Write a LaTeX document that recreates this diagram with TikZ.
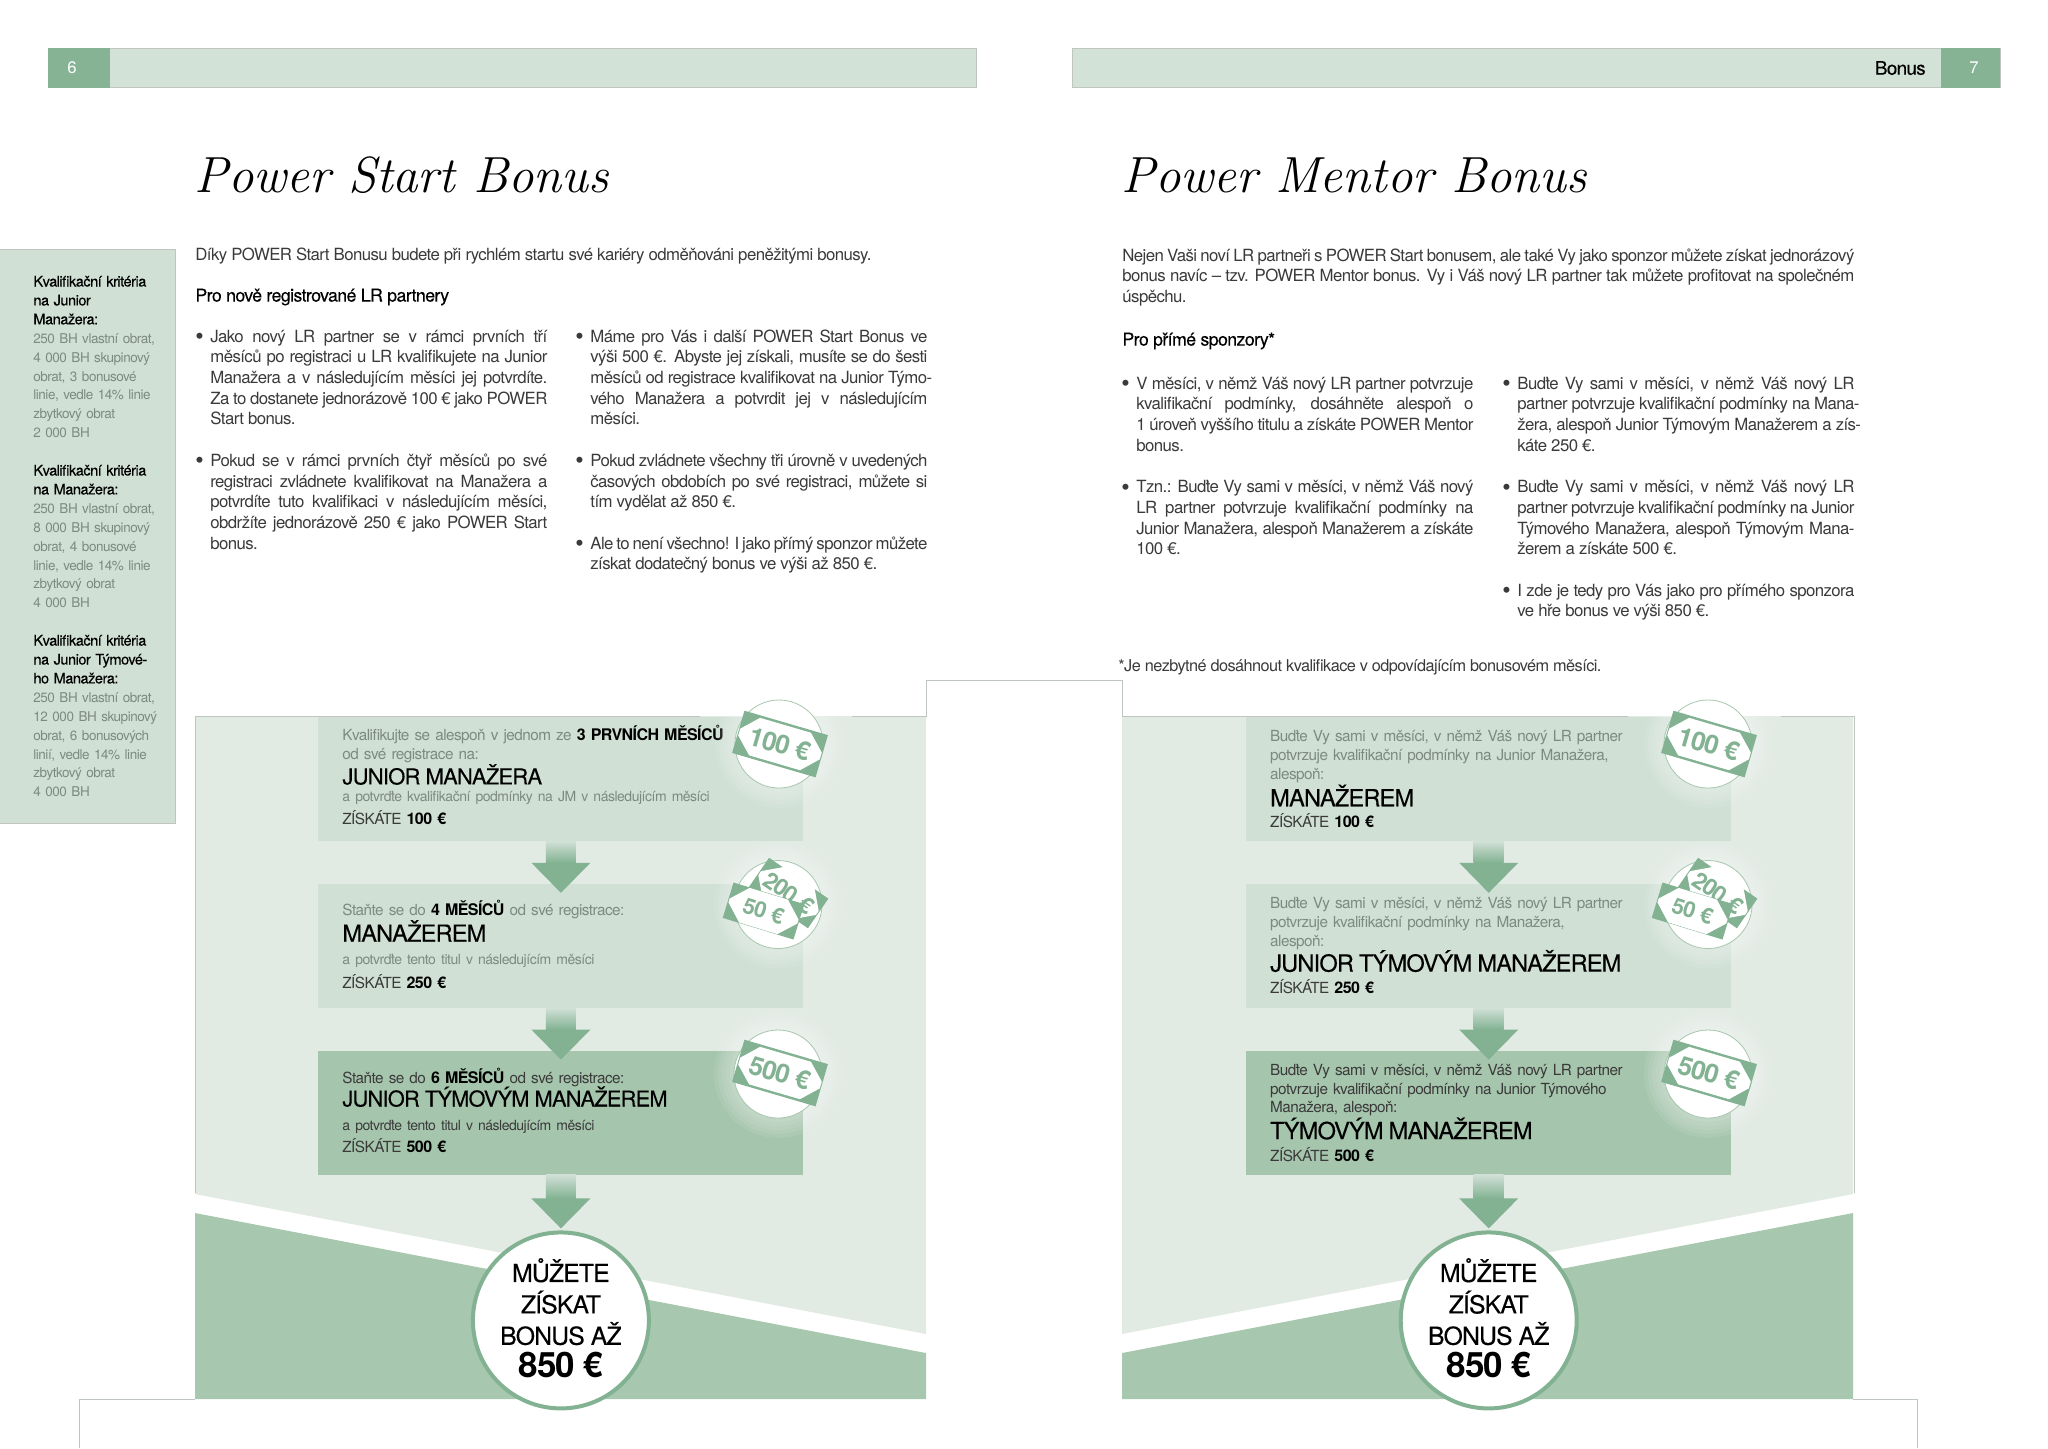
\documentclass[tikz,border=0pt]{standalone}
\usepackage{fontspec}
\setsansfont{TeX Gyre Heros}[LetterSpace=-3.5]
\newfontfamily\medf{TeX Gyre Heros}[LetterSpace=-3.5,FakeBold=0.2]
\usepackage{xcolor}
\usepackage{tikz}
\usetikzlibrary{positioning,calc,shapes.misc}

\definecolor{barlight}{HTML}{D3E2D7}
\definecolor{tabgreen}{HTML}{86B394}
\definecolor{edgegrey}{HTML}{BFC6C1}
\definecolor{panellight}{HTML}{E1EAE3}
\definecolor{panelgreen}{HTML}{A7C7AE}
\definecolor{boxlight}{HTML}{D0E0D5}
\definecolor{boxdark}{HTML}{A6C5AD}
\definecolor{notegreen}{HTML}{82B292}
\definecolor{softtext}{HTML}{7D8A82}
\definecolor{bodytext}{HTML}{3A3A3A}

\newcommand{\bodyf}{\fontsize{8.4}{10.35}\selectfont}
\newcommand{\headf}{\medf\fontsize{8.9}{10.35}\selectfont}
\newcommand{\sidef}{\fontsize{6.75}{9.45}\selectfont}
\newcommand{\sidehead}[1]{\textcolor{black}{\medf\fontsize{7.3}{9.45}\selectfont #1}}
\newcommand{\smallf}{\fontsize{7.65}{9.45}\selectfont}
\newcommand{\finef}{\fontsize{7}{9.45}\selectfont}
\newcommand{\bigf}{\medf\fontsize{11.8}{12.75}\selectfont}
\newcommand{\midf}{\medf\fontsize{10.9}{12.75}\selectfont}
\newcommand{\strongtx}[1]{\textcolor{black}{\bfseries\fontsize{8}{9.45}\selectfont #1}}
\newcommand{\bul}{\par\noindent\hangindent=7.5pt\hangafter=1\makebox[7.5pt][l]{\raisebox{-1.2pt}{\fontsize{12}{10}\selectfont\textbullet}}}
\newcommand{\gap}{\par\vspace{10.35pt}}
\newcommand{\flowarrow}[3]{
	\shade[top color=boxlight,bottom color=notegreen] ($(#1.south)+(-15,0)$) rectangle ($(#2.north)+(15,#3-30)$);
	\fill[notegreen] ($(#2.north)+(-29.5,#3-30)$) -- ($(#2.north)+(29.5,#3-30)$) -- ($(#2.north)+(0,#3)$) -- cycle;
}
\newcommand{\coindisc}[3]{
	\foreach \glow in {1,...,5}
		\fill[white,opacity=.08] (#2) circle[radius=#3+4*\glow];
	\node[coin,minimum size=#3*1pt] (#1) at (#2) {};
}
\newcommand{\banknote}[6]{
	\node[noteback,rotate=#3,minimum width=#4pt,minimum height=#5pt] (#1) at (#2) {};
	\node[noteface,rotate=#3,minimum width=#4pt-1pt,minimum height=#5pt-4pt] at (#1) {#6};
}

\begin{document}
\begin{tikzpicture}[x=0.5pt,y=-0.5pt,font=\sffamily]
	\tikzstyle{topbar}=[fill=barlight,draw=edgegrey,line width=0.4pt]
	\tikzstyle{toptab}=[fill=tabgreen]
	\tikzstyle{plain}=[anchor=west,inner sep=0pt,text=bodytext,font=\sffamily\bodyf]
	\tikzstyle{column}=[anchor=north west,inner sep=0pt,text=bodytext,font=\sffamily\bodyf,text width=176pt,align=justify]
	\tikzstyle{flowbox}=[fill=boxlight,inner xsep=12pt,inner ysep=0pt,minimum height=61.75pt,text width=218.5pt,align=left,font=\sffamily\smallf,text=softtext]
	\tikzstyle{flowdark}=[flowbox,fill=boxdark,text=bodytext]
	\tikzstyle{bonus}=[circle,draw=notegreen,line width=2pt,fill=white,minimum size=88pt,inner sep=0pt,align=center,text=black,font=\medf\fontsize{12.4}{15.7}\selectfont]
	\tikzstyle{coin}=[circle,draw=panelgreen,line width=0.4pt,fill=white,inner sep=0pt]
	\tikzstyle{noteback}=[rectangle,fill=notegreen,inner sep=0pt]
	\tikzstyle{noteface}=[chamfered rectangle,chamfered rectangle xsep=3pt,chamfered rectangle ysep=5pt,fill=white,inner sep=0pt,text=notegreen,font=\sffamily\bfseries\fontsize{13}{14}\selectfont]

	\useasboundingbox (0,0) rectangle (2048,1448);

	\draw[topbar] (48,48) rectangle (976,87.5);
	\fill[toptab] (48,48) rectangle (110,87.5);
	\node[inner sep=0pt,text=white,font=\sffamily\bodyf] (p6) at (72,68) {6};
	\draw[topbar] (1072,48) rectangle (2000,87.5);
	\fill[toptab] (1941,48) rectangle (2000,87.5);
	\node[inner sep=0pt,text=white,font=\sffamily\bodyf] (p7) at (1974,68) {7};
	\node[anchor=east,inner sep=0pt,font=\medf\fontsize{9.4}{10}\selectfont] (sec) at (1926,68) {Bonus};

	\node[anchor=base west,inner sep=0pt,font=\rmfamily\itshape\fontsize{25.4}{30}\selectfont] (t1) at (194,192) {Power Start Bonus};
	\node[anchor=base west,inner sep=0pt,font=\rmfamily\itshape\fontsize{25.4}{30}\selectfont] (t2) at (1121,192) {Power Mentor Bonus};

	\node[anchor=north west,fill=boxlight,draw=edgegrey,line width=0.4pt,minimum height=287pt,text width=88pt,inner sep=0pt,align=left,text=softtext,font=\sffamily\sidef] (side) at (-1,249) {\hspace*{17pt}\parbox{71pt}{\raggedright
		\sidehead{Kvalifikační kritéria}\\\sidehead{na Junior}\\\sidehead{Manažera:}\\
		250 BH vlastní obrat,\\4 000 BH skupinový\\obrat, 3 bonusové\\linie, vedle 14\% linie\\zbytkový obrat\\2 000 BH\\[9.45pt]
		\sidehead{Kvalifikační kritéria}\\\sidehead{na Manažera:}\\
		250 BH vlastní obrat,\\8 000 BH skupinový\\obrat, 4 bonusové\\linie, vedle 14\% linie\\zbytkový obrat\\4 000 BH\\[9.45pt]
		\sidehead{Kvalifikační kritéria}\\\sidehead{na Junior Týmové-}\\\sidehead{ho Manažera:}\\
		250 BH vlastní obrat,\\12 000 BH skupinový\\obrat, 6 bonusových\\linií, vedle 14\% linie\\zbytkový obrat\\4 000 BH}};

	\node[plain] (i1) at (195,256) {Díky POWER Start Bonusu budete při rychlém startu své kariéry odměňováni peněžitými bonusy.};
	\node[plain,text=black,font=\headf] (h1) at (195,297) {Pro nově registrované LR partnery};
	\node[column] (c1) at (195,321) {\bul Jako nový LR partner se v rámci prvních tří\linebreak měsíců po registraci u LR kvalifikujete na Junior\linebreak Manažera a v následujícím měsíci jej potvrdíte.\linebreak Za to dostanete jednorázově 100 € jako POWER\linebreak Start bonus.\gap
		\bul Pokud se v rámci prvních čtyř měsíců po své\linebreak registraci zvládnete kvalifikovat na Manažera a\linebreak potvrdíte tuto kvalifikaci v následujícím měsíci,\linebreak obdržíte jednorázově 250 € jako POWER Start\linebreak bonus.\par};
	\node[column] (c2) at (575,321) {\bul Máme pro Vás i další POWER Start Bonus ve\linebreak výši 500 €. Abyste jej získali, musíte se do šesti\linebreak\mbox{měsíců od registrace kvalifikovat na Junior Týmo-}\linebreak vého Manažera a potvrdit jej v následujícím\linebreak měsíci.\gap
		\bul Pokud zvládnete všechny tři úrovně v uvedených\linebreak časových obdobích po své registraci, můžete si\linebreak tím vydělat až 850 €.\gap
		\bul Ale to není všechno! I jako přímý sponzor můžete\linebreak získat dodatečný bonus ve výši až 850 €.\par};

	\node[column,text width=366pt] (i2) at (1122,248) {Nejen Vaši noví LR partneři s POWER Start bonusem, ale také Vy jako sponzor můžete získat jednorázový\linebreak bonus navíc – tzv. POWER Mentor bonus. Vy i Váš nový LR partner tak můžete profitovat na společném\linebreak úspěchu.};
	\node[plain,text=black,font=\headf] (h2) at (1122,341) {Pro přímé sponzory*};
	\node[column] (c3) at (1121,368) {\bul V měsíci, v němž Váš nový LR partner potvrzuje\linebreak kvalifikační podmínky, dosáhněte alespoň o\linebreak 1 úroveň vyššího titulu a získáte POWER Mentor\linebreak bonus.\gap
		\bul Tzn.: Buďte Vy sami v měsíci, v němž Váš nový\linebreak LR partner potvrzuje kvalifikační podmínky na\linebreak Junior Manažera, alespoň Manažerem a získáte\linebreak 100 €.\par};
	\node[column] (c4) at (1502,368) {\bul Buďte Vy sami v měsíci, v němž Váš nový LR\linebreak\mbox{partner potvrzuje kvalifikační podmínky na Mana-}\linebreak\mbox{žera, alespoň Junior Týmovým Manažerem a zís-}\linebreak káte 250 €.\gap
		\bul Buďte Vy sami v měsíci, v němž Váš nový LR\linebreak partner potvrzuje kvalifikační podmínky na Junior\linebreak Týmového Manažera, alespoň Týmovým Mana-\linebreak žerem a získáte 500 €.\gap
		\bul I zde je tedy pro Vás jako pro přímého sponzora\linebreak ve hře bonus ve výši 850 €.\par};
	\node[plain,font=\sffamily\fontsize{8.15}{10}\selectfont] (fn) at (1118,667) {*Je nezbytné dosáhnout kvalifikace v odpovídajícím bonusovém měsíci.};

	\fill[panellight] (195,716) -- (926,716) -- (926,1334) -- (195,1194) -- cycle;
	\fill[panelgreen] (195,1213) -- (926,1353) -- (926,1399) -- (195,1399) -- cycle;
	\fill[panellight] (1122,716) -- (1853,716) -- (1853,1194) -- (1122,1334) -- cycle;
	\fill[panelgreen] (1853,1213) -- (1122,1353) -- (1122,1399) -- (1853,1399) -- cycle;
	\draw[edgegrey,line width=0.4pt] (700,716) -- (195,716) -- (195,1193);
	\draw[edgegrey,line width=0.4pt] (852,716) -- (926,716) -- (926,680) -- (1122,680) -- (1122,716) -- (1628,716);
	\draw[edgegrey,line width=0.4pt] (1781,716) -- (1854,716) -- (1854,1193);
	\draw[edgegrey,line width=0.4pt] (195,1399) -- (79.5,1399) -- (79.5,1448);
	\draw[edgegrey,line width=0.4pt] (1853,1399) -- (1917,1399) -- (1917,1448);

	\node[flowbox,anchor=north west] (a1) at (318,717) {Kvalifikujte se alespoň v jednom ze \strongtx{3 PRVNÍCH MĚSÍCŮ}\\od své registrace na:\\[-0.4pt]
		\textcolor{black}{\medf\fontsize{11}{12.75}\selectfont JUNIOR MANAŽERA}\\[-0.8pt]
		{\finef a potvrďte kvalifikační podmínky na JM v následujícím měsíci}\\[2pt]
		\textcolor{bodytext}{ZÍSKÁTE \strongtx{100 €}}\par\vspace{4pt}};
	\node[flowbox] (a2) [below=21.25pt of a1] {Staňte se do \strongtx{4 MĚSÍCŮ} od své registrace:\\[-0.3pt]
		\textcolor{black}{\bigf MANAŽEREM}\\[1.7pt]
		{\finef a potvrďte tento titul v následujícím měsíci}\\[2.6pt]
		\textcolor{bodytext}{ZÍSKÁTE \strongtx{250 €}}\par\vspace{1.8pt}};
	\node[flowdark] (a3) [below=21.25pt of a2] {Staňte se do \strongtx{6 MĚSÍCŮ} od své registrace:\\[-1pt]
		\textcolor{black}{\midf JUNIOR TÝMOVÝM MANAŽEREM}\\[2.3pt]
		{\finef a potvrďte tento titul v následujícím měsíci}\\[2pt]
		ZÍSKÁTE \strongtx{500 €}\par\vspace{2.3pt}};
	\node[bonus] (a4) [below=27.75pt of a3] {MŮŽETE\\ZÍSKAT\\BONUS AŽ\\[0.5pt]{\sffamily\bfseries\fontsize{17.5}{15.7}\selectfont 850 €}\par\vspace{2.6pt}};

	\node[flowbox] (b1) [right=221pt of a1] {Buďte Vy sami v měsíci, v němž Váš nový LR partner\\potvrzuje kvalifikační podmínky na Junior Manažera,\\alespoň:\\[0pt]
		\textcolor{black}{\bigf MANAŽEREM}\\[1.3pt]
		\textcolor{bodytext}{ZÍSKÁTE \strongtx{100 €}}};
	\node[flowbox] (b2) [below=21.25pt of b1] {Buďte Vy sami v měsíci, v němž Váš nový LR partner\\potvrzuje kvalifikační podmínky na Manažera,\\alespoň:\\[-1pt]
		\textcolor{black}{\bigf JUNIOR TÝMOVÝM MANAŽEREM}\\[1.7pt]
		\textcolor{bodytext}{ZÍSKÁTE \strongtx{250 €}}};
	\node[flowdark] (b3) [below=21.25pt of b2] {Buďte Vy sami v měsíci, v němž Váš nový LR partner\\potvrzuje kvalifikační podmínky na Junior Týmového\\Manažera, alespoň:\\[-0.4pt]
		\textcolor{black}{\bigf TÝMOVÝM MANAŽEREM}\\[1.6pt]
		ZÍSKÁTE \strongtx{500 €}};
	\node[bonus] (b4) [below=27.75pt of b3] {MŮŽETE\\ZÍSKAT\\BONUS AŽ\\[0.5pt]{\sffamily\bfseries\fontsize{17.5}{15.7}\selectfont 850 €}\par\vspace{2.6pt}};

	\flowarrow{a1}{a2}{9}
	\flowarrow{a2}{a3}{9}
	\flowarrow{a3}{a4}{-2}
	\flowarrow{b1}{b2}{9}
	\flowarrow{b2}{b3}{9}
	\flowarrow{b3}{b4}{-2}

	\coindisc{ca1}{779,744}{44}
	\banknote{na1}{780,744}{-16.3}{43.5}{22}{100 €}
	\coindisc{ca2}{778,904.5}{44}
	\banknote{na2}{788.5,893}{-34.6}{36}{18}{\fontsize{11.5}{13}\selectfont 200 €}
	\banknote{na3}{763.5,911}{-17}{37}{18.5}{\fontsize{11}{13}\selectfont 50 €}
	\coindisc{ca3}{778,1074}{44}
	\banknote{na4}{780,1073}{-16.3}{43.5}{22}{500 €}

	\coindisc{cb1}{1708,744}{44}
	\banknote{nb1}{1709,744}{-16.3}{43.5}{22}{100 €}
	\coindisc{cb2}{1708,904.5}{44}
	\banknote{nb2}{1717.5,893}{-34.6}{36}{18}{\fontsize{11.5}{13}\selectfont 200 €}
	\banknote{nb3}{1692.5,911}{-17}{37}{18.5}{\fontsize{11}{13}\selectfont 50 €}
	\coindisc{cb3}{1708,1074}{44}
	\banknote{nb4}{1709,1073}{-16.3}{43.5}{22}{500 €}
\end{tikzpicture}
\end{document}
